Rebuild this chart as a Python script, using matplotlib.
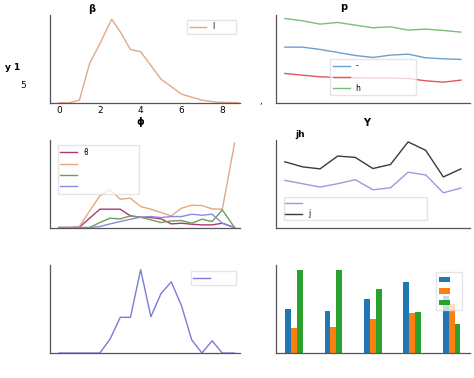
import matplotlib
matplotlib.use('Agg')
import matplotlib.pyplot as plt

plt.rcParams.update({
    'font.family': ['DejaVu Sans'],
    'font.size': 7,
    'axes.linewidth': 0.9,
    'axes.edgecolor': '#555555',
})

# top-left: single curve
tl_x = [0, 0.5, 1.0, 1.5, 2.0, 2.58, 3.0, 3.5, 4.0, 5.0, 6.0, 7.0, 7.7, 8.8]
tl_y = [0, 0, 8, 118, 177, 251, 213, 160, 153, 71, 26, 8, 2, 0]

# top-right: three slowly falling lines
tr_x = [0, 1, 2, 3, 4, 5, 6, 7, 8, 9, 10]
tr_blue = [167, 167, 160, 151, 142, 136, 143, 146, 135, 132, 130]
tr_red = [88, 83, 78, 76, 75, 75, 74, 73, 66, 62, 68]
tr_green = [253, 246, 236, 241, 233, 225, 228, 218, 221, 217, 212]

# middle-left: four curves
ml_x = [0, 0.5, 1, 1.5, 2, 2.5, 3, 3.5, 4, 4.5, 5, 5.5, 6, 6.5, 7, 7.5, 8, 8.6]
ml_mag = [0, 0, 1, 28, 55, 55, 55, 35, 31, 30, 26, 11, 13, 10, 8, 8, 13, 0]
ml_tan = [0, 0, 3, 50, 95, 113, 85, 88, 63, 55, 45, 35, 58, 67, 66, 56, 55, 253]
ml_green = [0, 0, 0, 0, 15, 28, 26, 35, 31, 23, 15, 20, 21, 13, 25, 18, 53, 0]
ml_blue = [0, 0, 0, 0, 3, 11, 18, 25, 31, 33, 30, 33, 33, 40, 37, 40, 13, 0]

# middle-right: two lines
mr_x = [0, 1, 2, 3, 4, 5, 6, 7, 8, 9, 10]
mr_purple = [140, 130, 120, 130, 142, 112, 118, 164, 156, 103, 117]
mr_black = [195, 180, 174, 212, 208, 175, 187, 254, 229, 150, 174]

# bottom-left: single spiky curve
bl_x = [0, 0.5, 1, 1.5, 2, 2.5, 3, 3.5, 4, 4.5, 5, 5.5, 6, 6.5, 7, 7.5, 8, 8.6]
bl_y = [0, 0, 0, 0, 0, 42, 108, 108, 252, 110, 180, 215, 143, 40, 0, 37, 0, 0]

# bottom-right: grouped bars
br_groups = [0, 1, 2, 3, 4]
br_blue = [132, 128, 162, 214, 172]
br_orange = [75, 78, 103, 122, 148]
br_green = [252, 252, 193, 123, 88]

fig = plt.figure(figsize=(4.74, 3.78), dpi=100)

lx, lw = 0.1055, 0.401
rx, rw = 0.582, 0.409
rows = [0.728, 0.398, 0.066]
h = 0.232

ax_tl = fig.add_axes([lx, rows[0], lw, h])
ax_tr = fig.add_axes([rx, rows[0], rw, h])
ax_ml = fig.add_axes([lx, rows[1], lw, h])
ax_mr = fig.add_axes([rx, rows[1], rw, h])
ax_bl = fig.add_axes([lx, rows[2], lw, h])
ax_br = fig.add_axes([rx, rows[2], rw, h])

for ax in [ax_tl, ax_tr, ax_ml, ax_mr, ax_bl, ax_br]:
    ax.spines['top'].set_visible(False)
    ax.spines['right'].set_visible(False)
    ax.set_yticks([])
    ax.set_xticks([])

leg_kw = dict(fontsize=5.5, frameon=True, framealpha=0.75, edgecolor='#dddddd',
              fancybox=False, handlelength=2.2, borderpad=0.35, labelspacing=0.3)

# top-left
ax_tl.plot(tl_x, tl_y, color='#e3a882', lw=1.0, label='l')
ax_tl.set_xlim(-0.44, 8.87)
ax_tl.set_ylim(0, 263)
ax_tl.set_xticks([0, 2, 4, 6, 8])
ax_tl.tick_params(axis='x', length=0, pad=2.5, labelsize=6.5)
ax_tl.set_title('β', fontsize=7, fontweight='bold', pad=2, x=0.22)
ax_tl.legend(loc='upper right', bbox_to_anchor=(0.7, 0.99, 0.3, 0.0), mode='expand', **leg_kw)

# top-right
ax_tr.plot(tr_x, tr_blue, color='#6a9fd0', lw=1.0, label='-')
ax_tr.plot(tr_x, tr_red, color='#e05560', lw=1.0, label=' ')
ax_tr.plot(tr_x, tr_green, color='#78c078', lw=1.0, label='h')
ax_tr.set_xlim(-0.51, 10.5)
ax_tr.set_ylim(0, 263)
ax_tr.set_title('p', fontsize=7, fontweight='bold', pad=4, x=0.35)
ax_tr.legend(loc='lower left', bbox_to_anchor=(0.26, 0.04, 0.485, 0.0), mode='expand', **leg_kw)

# middle-left
ax_ml.plot(ml_x, ml_mag, color='#a83a72', lw=1.0, label='ϐ')
ax_ml.plot(ml_x, ml_tan, color='#e3a882', lw=1.0, label=' ')
ax_ml.plot(ml_x, ml_green, color='#6e9e58', lw=1.0, label=' ')
ax_ml.plot(ml_x, ml_blue, color='#8a8ae0', lw=1.0, label=' ')
ax_ml.set_xlim(-0.44, 8.87)
ax_ml.set_ylim(0, 263)
ax_ml.legend(loc='upper left', bbox_to_anchor=(0.02, 0.98, 0.47, 0.0), mode='expand', **leg_kw)

# middle-right
ax_mr.plot(mr_x, mr_purple, color='#9a9ae0', lw=1.0, label=' ')
ax_mr.plot(mr_x, mr_black, color='#3a3a3a', lw=1.0, label='j')
ax_mr.set_xlim(-0.51, 10.5)
ax_mr.set_ylim(0, 260)
ax_mr.set_title('Y', fontsize=7, fontweight='bold', pad=10, x=0.47)
ax_mr.text(0.1, 1.03, 'jh', transform=ax_mr.transAxes, fontsize=6.5, fontweight='bold')
ax_mr.legend(loc='lower left', bbox_to_anchor=(0.02, 0.04, 0.78, 0.0), mode='expand',
             fontsize=5.5, frameon=True, framealpha=0.75, edgecolor='#dddddd',
             fancybox=False, handlelength=2.2, borderpad=0.25, labelspacing=0.15)

# bottom-left
ax_bl.plot(bl_x, bl_y, color='#7b7bd8', lw=1.0, label=' ')
ax_bl.set_xlim(-0.44, 8.87)
ax_bl.set_ylim(0, 265)
ax_bl.legend(loc='upper right', bbox_to_anchor=(0.72, 0.98, 0.28, 0.0), mode='expand', **leg_kw)

# bottom-right
bw = 0.15
ax_br.bar([g - bw for g in br_groups], br_blue, width=bw, color='#1f77b4', label=' ')
ax_br.bar(br_groups, br_orange, width=bw, color='#ff7f0e', label=' ')
ax_br.bar([g + bw for g in br_groups], br_green, width=bw, color='#2ca02c', label=' ')
ax_br.set_xlim(-0.46, 4.46)
ax_br.set_ylim(0, 265)
ax_br.legend(loc='upper right', bbox_to_anchor=(0.806, 0.97, 0.175, 0.0), mode='expand',
             handlelength=1.5, labelspacing=0.35, borderpad=0.4, fontsize=5.5, frameon=True,
             framealpha=0.75, edgecolor='#dddddd', fancybox=False)

# stray labels around the grid
fig.text(0.01, 0.815, 'y 1', fontsize=6.5, fontweight='bold')
fig.text(0.043, 0.767, '5', fontsize=6.5)
fig.text(0.296, 0.668, 'ϕ', fontsize=7, fontweight='bold', ha='center')
fig.text(0.548, 0.725, ',', fontsize=6)

fig.savefig('out.png', dpi=100)
